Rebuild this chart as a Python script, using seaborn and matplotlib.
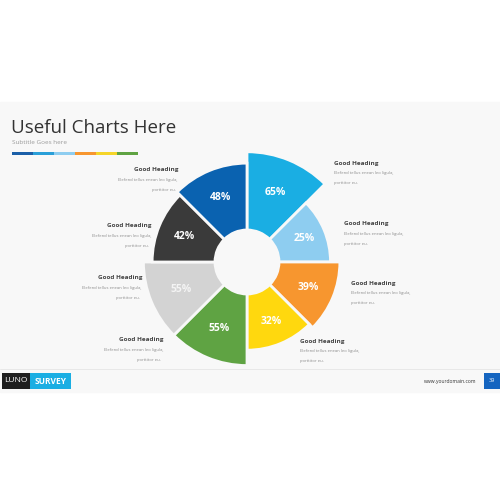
import numpy as np
import matplotlib.pyplot as plt
import seaborn as sns
from matplotlib.patches import Rectangle

sns.set_theme(style="white")
plt.rcParams['font.family'] = ['Open Sans', 'DejaVu Sans']

# wedges, clockwise from 12 o'clock
values = [65, 25, 39, 32, 55, 55, 42, 48]
labels = ["65%", "25%", "39%", "32%", "55%", "55%", "42%", "48%"]
colors = ["#1aaee3", "#8ecdf0", "#f7962f", "#ffd80e",
          "#5fa343", "#d3d3d3", "#3a3a3a", "#0a62b0"]
label_colors = ["white", "white", "white", "white", "white", "#f4f4f4", "white", "white"]

title = "Useful Charts Here"
subtitle = "Subtitle Goes here"
heading = "Good Heading"
body1 = "Elefend tellus enean leo ligula,"
body2 = "porttitor eu."
strip_colors = ["#1b5fa8", "#2a9fd8", "#8ecdf0", "#f7962f", "#f5d52a", "#5fa343"]

bg = "#f8f8f8"

fig = plt.figure(figsize=(5, 5), dpi=100)
fig.patch.set_facecolor("white")


def pixel_axes():
    a = fig.add_axes([0, 0, 1, 1])
    a.set_xlim(0, 500)
    a.set_ylim(500, 0)
    a.axis("off")
    a.patch.set_alpha(0)
    return a


# slide background in pixel coords
back = pixel_axes()
back.add_patch(Rectangle((0, 102), 500, 290, color=bg, zorder=0))
back.plot([0, 500], [369, 369], color="#e6e6e6", lw=0.6)

# polar chart: 1 data unit ~ 0.668 px
cx, cy, rpx = 247, 262, 130
rmax = rpx / 0.668
hole = 32 / 0.668
base = 100
ax = fig.add_axes([(cx - rpx) / 500, 1 - (cy + rpx) / 500, 2 * rpx / 500, 2 * rpx / 500],
                  projection="polar")
ax.set_theta_zero_location("N")
ax.set_theta_direction(-1)
ax.set_ylim(0, rmax)
ax.axis("off")
ax.patch.set_alpha(0)

n = len(values)
theta = np.deg2rad(np.arange(n) * 360 / n + 180 / n)
tops = base + np.array(values)
ax.bar(theta, tops - hole, width=2 * np.pi / n, bottom=hole, color=colors,
       edgecolor=bg, linewidth=2)
for t, top, lab, lc in zip(theta, tops, labels, label_colors):
    ax.text(t, (hole + top) / 2 + 6, lab, color=lc, fontsize=7.5, fontweight="bold",
            ha="center", va="center")

# texts on top of everything
deco = pixel_axes()
deco.text(11, 128, title, fontsize=13.5, color="#333333", va="center")
deco.text(12, 143, subtitle, fontsize=4.6, color="#9a9a9a", va="center")
for i, c in enumerate(strip_colors):
    deco.add_patch(Rectangle((12 + i * 21, 151.5), 21, 3, color=c, lw=0))

# side captions: (x, y, align)
captions = [(334, 163, "left"), (344, 224, "left"), (351, 283, "left"), (300, 341, "left"),
            (163, 340, "right"), (142, 278, "right"), (151, 226, "right"), (178, 170, "right")]
for x, y, ha in captions:
    deco.text(x, y, heading, fontsize=4.6, fontweight="bold", color="#444444", ha=ha, va="center")
    deco.text(x, y + 10, body1, fontsize=3, color="#8a8a8a", ha=ha, va="center")
    deco.text(x if ha == "left" else x - 2, y + 20, body2, fontsize=3, color="#8a8a8a", ha=ha, va="center")

# footer
deco.add_patch(Rectangle((2, 373), 28, 16, color="#1e1e1e", lw=0))
deco.add_patch(Rectangle((30, 373), 41, 16, color="#1aaee3", lw=0))
deco.text(16, 381, "LUNO", fontsize=6, color="white", ha="center", va="center")
deco.text(50.5, 381, "SURVEY", fontsize=6, fontweight="bold", color="white", ha="center", va="center")
deco.text(476, 381, "www.yourdomain.com", fontsize=3.6, color="#333333", ha="right", va="center")
deco.add_patch(Rectangle((484, 373), 16, 16, color="#1565c0", lw=0))
deco.text(492, 381, "39", fontsize=4, color="white", ha="center", va="center")

fig.savefig("out.png", dpi=100)
